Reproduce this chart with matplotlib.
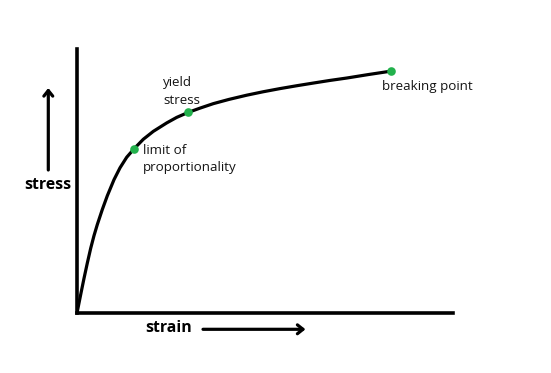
import matplotlib
matplotlib.use("Agg")
import matplotlib.pyplot as plt
from matplotlib.patches import FancyArrowPatch

# curve data (strain, stress) in relative units (0-100 of axis extent)
strain = [0.0, 1.14, 1.86, 2.74, 3.64, 4.52, 5.40, 6.73, 8.06, 9.84,
          11.44, 13.22, 15.24, 17.63, 20.29, 23.86, 26.52, 29.60, 32.71,
          36.25, 40.4, 45.13, 49.5, 53.99, 58.5, 62.85, 67.3, 71.73, 77.4, 83.43]
stress = [0.0, 8.1, 13.1, 18.9, 24.5, 29.3, 33.5, 39.2, 44.4, 50.5,
          55.0, 59.0, 62.3, 65.8, 68.8, 72.0, 74.1, 76.0, 77.6,
          79.3, 80.9, 82.5, 83.8, 85.0, 86.1, 87.1, 88.1, 89.0, 90.3, 91.6]

# marked points
point_names = ["limit of proportionality", "yield stress", "breaking point"]
point_strain = [15.24, 29.60, 83.43]
point_stress = [62.3, 76.0, 91.6]

W, H = 551, 373
fig = plt.figure(figsize=(W / 100, H / 100), dpi=100)
fig.patch.set_facecolor("white")

def fx(px):
    return px / W

def fy(py):
    return 1 - py / H

ax = fig.add_axes([fx(77), fy(313), (453 - 77) / W, (313 - 49) / H])
ax.set_xlim(0, 100)
ax.set_ylim(0, 100)
ax.set_xticks([])
ax.set_yticks([])
for s in ["top", "right"]:
    ax.spines[s].set_visible(False)
for s in ["left", "bottom"]:
    ax.spines[s].set_linewidth(2.6)
    ax.spines[s].set_color("black")
ax.patch.set_alpha(0)

ax.plot(strain, stress, color="black", lw=2.3, solid_capstyle="round",
        solid_joinstyle="round", zorder=2)
ax.plot(point_strain, point_stress, "o", color="#22b14c", ms=6.2, mec="none", zorder=3)

tfont = dict(family="Open Sans", fontsize=9.6, color="#141414")
fig.text(fx(163), fy(86), "yield", va="baseline", ha="left", **tfont)
fig.text(fx(163), fy(103.5), "stress", va="baseline", ha="left", **tfont)
fig.text(fx(143), fy(154), "limit of", va="baseline", ha="left", **tfont)
fig.text(fx(143), fy(171.5), "proportionality", va="baseline", ha="left", **tfont)
fig.text(fx(381.5), fy(90), "breaking point", va="baseline", ha="left", **tfont)

bfont = dict(family="Open Sans", fontsize=11.4, fontweight="bold", color="black")
fig.text(fx(24), fy(189), "stress", va="baseline", ha="left", **bfont)
fig.text(fx(145), fy(332), "strain", va="baseline", ha="left", **bfont)

fig.add_artist(FancyArrowPatch(
    (fx(48.3), fy(170)), (fx(48.3), fy(88)), transform=fig.transFigure,
    arrowstyle="->,head_length=4,head_width=3.2", lw=2.3, color="black",
    shrinkA=0, shrinkB=0, mutation_scale=1))
fig.add_artist(FancyArrowPatch(
    (fx(203), fy(329.3)), (fx(305.5), fy(329.3)), transform=fig.transFigure,
    arrowstyle="->,head_length=4,head_width=3.2", lw=2.3, color="black",
    shrinkA=0, shrinkB=0, mutation_scale=1))

fig.savefig("out.png", dpi=100, facecolor="white")
